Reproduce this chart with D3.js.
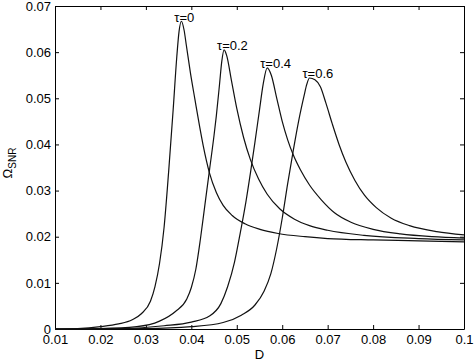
<!DOCTYPE html>
<html>
<head>
<meta charset="utf-8">
<script src="https://cdn.jsdelivr.net/npm/d3@7"></script>
<style>
  body { margin: 0; background: #fff; }
  svg { display: block; }
  .axis text { font-family: Arial, "Liberation Sans", sans-serif; font-size: 13px; fill: #000; }
  .axis path, .axis line { stroke: #000; stroke-width: 1; }
  .curve { fill: none; stroke: #111; stroke-width: 1.2; }
  .lbl { font-family: Arial, "Liberation Sans", sans-serif; font-size: 13px; fill: #000; }
</style>
</head>
<body>
<div id="chart"></div>
<script>
// values
var tauNames = ["τ=0", "τ=0.2", "τ=0.4", "τ=0.6"];

var dTau0 = [0.010, 0.015, 0.020, 0.024, 0.027, 0.029, 0.031, 0.032, 0.033, 0.034, 0.035, 0.036, 0.0368, 0.0373, 0.0378, 0.0384, 0.0389, 0.0398, 0.0408, 0.0418, 0.0426, 0.0440, 0.0455, 0.0470, 0.0490, 0.0518, 0.0551, 0.0591, 0.065, 0.070, 0.080, 0.090, 0.100];
var omegaTau0 = [0.0000, 0.0001, 0.0005, 0.0011, 0.0020, 0.0033, 0.0060, 0.0092, 0.0142, 0.0220, 0.0340, 0.0475, 0.0590, 0.0645, 0.0667, 0.0648, 0.0615, 0.0555, 0.0497, 0.0440, 0.0398, 0.0338, 0.0296, 0.0268, 0.0246, 0.0228, 0.0216, 0.0207, 0.0200, 0.0196, 0.0193, 0.0191, 0.0189];

var dTau2 = [0.010, 0.020, 0.028, 0.033, 0.0365, 0.039, 0.040, 0.041, 0.042, 0.043, 0.044, 0.045, 0.0455, 0.0462, 0.0467, 0.0472, 0.0478, 0.0488, 0.0500, 0.0515, 0.0530, 0.0548, 0.0567, 0.0595, 0.0627, 0.0660, 0.0700, 0.078, 0.090, 0.100];
var omegaTau2 = [0.0000, 0.0001, 0.0005, 0.0017, 0.0038, 0.0065, 0.0090, 0.0130, 0.0195, 0.0270, 0.0345, 0.0420, 0.0462, 0.0530, 0.0580, 0.0605, 0.0592, 0.0540, 0.0478, 0.0415, 0.0367, 0.0325, 0.0292, 0.0260, 0.0238, 0.0224, 0.0214, 0.0203, 0.0196, 0.0193];

var dTau4 = [0.010, 0.025, 0.034, 0.040, 0.044, 0.0465, 0.0480, 0.0495, 0.0508, 0.0520, 0.0530, 0.0540, 0.0550, 0.0558, 0.0567, 0.0576, 0.0588, 0.0600, 0.0612, 0.0624, 0.0640, 0.0660, 0.0686, 0.0715, 0.0750, 0.0800, 0.0860, 0.0930, 0.100];
var omegaTau4 = [0.0000, 0.0001, 0.0007, 0.0015, 0.0028, 0.0055, 0.0092, 0.0145, 0.0210, 0.0275, 0.0338, 0.0405, 0.0475, 0.0530, 0.0566, 0.0550, 0.0500, 0.0450, 0.0410, 0.0378, 0.0345, 0.0312, 0.0280, 0.0252, 0.0232, 0.0216, 0.0206, 0.0200, 0.0197];

var dTau6 = [0.010, 0.030, 0.040, 0.047, 0.051, 0.054, 0.056, 0.0575, 0.0588, 0.0600, 0.0612, 0.0624, 0.0636, 0.0648, 0.0654, 0.0660, 0.0672, 0.0684, 0.0696, 0.0710, 0.0725, 0.0740, 0.0760, 0.0781, 0.0807, 0.0840, 0.0880, 0.0940, 0.100];
var omegaTau6 = [0.0000, 0.0001, 0.0005, 0.0014, 0.0030, 0.0052, 0.0082, 0.0120, 0.0175, 0.0240, 0.0315, 0.0385, 0.0450, 0.0505, 0.0530, 0.0544, 0.0540, 0.0525, 0.0490, 0.0445, 0.0400, 0.0362, 0.0322, 0.0290, 0.0263, 0.0240, 0.0224, 0.0211, 0.0204];

var xTicks = [0.01, 0.02, 0.03, 0.04, 0.05, 0.06, 0.07, 0.08, 0.09, 0.1];
var xTickLabels = ["0.01", "0.02", "0.03", "0.04", "0.05", "0.06", "0.07", "0.08", "0.09", "0.1"];
var yTicks = [0, 0.01, 0.02, 0.03, 0.04, 0.05, 0.06, 0.07];
var yTickLabels = ["0", "0.01", "0.02", "0.03", "0.04", "0.05", "0.06", "0.07"];

var W = 474, H = 363;
var mLeft = 55, mRight = 464, mTop = 6, mBottom = 329;

var svg = d3.select("#chart").append("svg")
  .attr("width", W)
  .attr("height", H);

var x = d3.scaleLinear().domain([0.01, 0.1]).range([mLeft, mRight]);
var y = d3.scaleLinear().domain([0, 0.07]).range([mBottom, mTop]);

function fmt(ticks, labels) {
  return function(d) { return labels[ticks.indexOf(d)]; };
}

svg.append("g").attr("class", "axis")
  .attr("transform", "translate(0," + mBottom + ")")
  .call(d3.axisBottom(x).tickValues(xTicks).tickFormat(fmt(xTicks, xTickLabels))
    .tickSizeInner(-4).tickSizeOuter(0).tickPadding(6));

svg.append("g").attr("class", "axis")
  .attr("transform", "translate(0," + mTop + ")")
  .call(d3.axisTop(x).tickValues(xTicks).tickFormat("")
    .tickSizeInner(-4).tickSizeOuter(0));

svg.append("g").attr("class", "axis")
  .attr("transform", "translate(" + mLeft + ",0)")
  .call(d3.axisLeft(y).tickValues(yTicks).tickFormat(fmt(yTicks, yTickLabels))
    .tickSizeInner(-4).tickSizeOuter(0).tickPadding(4));

svg.append("g").attr("class", "axis")
  .attr("transform", "translate(" + mRight + ",0)")
  .call(d3.axisRight(y).tickValues(yTicks).tickFormat("")
    .tickSizeInner(-4).tickSizeOuter(0));

svg.selectAll(".axis .tick text").filter(function(){ return this.textContent === ""; }).remove();

var series = [
  {name: tauNames[0], d: dTau0, v: omegaTau0},
  {name: tauNames[1], d: dTau2, v: omegaTau2},
  {name: tauNames[2], d: dTau4, v: omegaTau4},
  {name: tauNames[3], d: dTau6, v: omegaTau6}
];

var line = d3.line()
  .x(function(p) { return x(p[0]); })
  .y(function(p) { return y(p[1]); })
  .curve(d3.curveMonotoneX);

series.forEach(function(s) {
  var pts = s.d.map(function(dv, i) { return [dv, s.v[i]]; });
  svg.append("path").attr("class", "curve").attr("d", line(pts));

  // label sits on top of the peak
  var k = d3.maxIndex(s.v);
  svg.append("text").attr("class", "lbl")
    .attr("x", x(s.d[k]) - 7)
    .attr("y", y(s.v[k]) + 0.5)
    .text(s.name);
});

svg.append("text").attr("class", "lbl")
  .attr("x", (mLeft + mRight) / 2)
  .attr("y", 359)
  .attr("text-anchor", "middle")
  .text("D");

var ylab = svg.append("text").attr("class", "lbl")
  .attr("transform", "translate(12," + 163 + ") rotate(-90)")
  .attr("text-anchor", "middle");
ylab.append("tspan").text("Ω");
ylab.append("tspan").attr("dy", 4).style("font-size", "10px").text("SNR");
</script>
</body>
</html>
